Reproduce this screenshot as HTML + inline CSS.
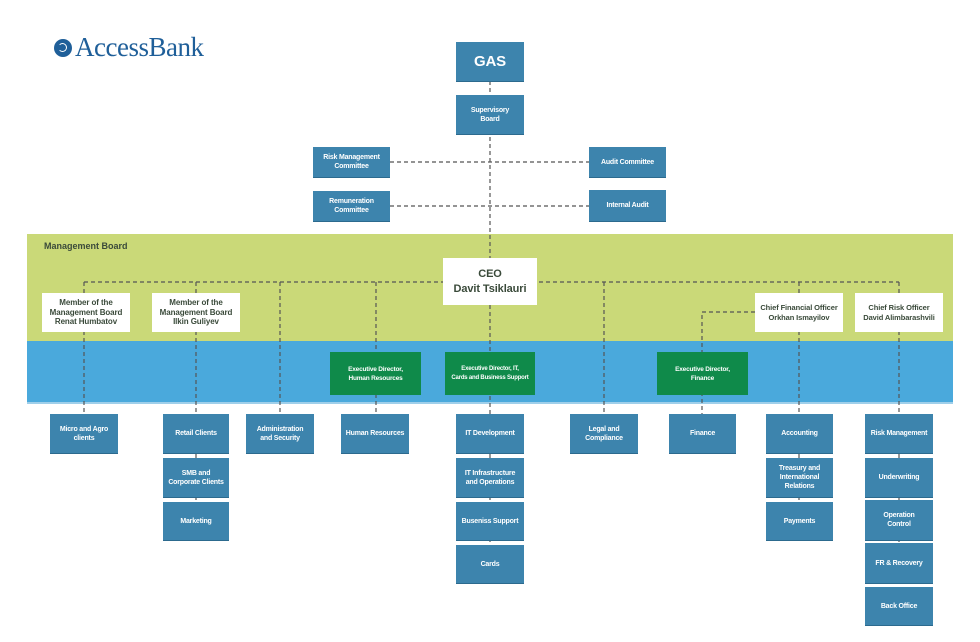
<!DOCTYPE html>
<html><head><meta charset="utf-8"><style>
body{margin:0;background:#fff;}
#c{position:relative;width:980px;height:642px;overflow:hidden;font-family:"Liberation Sans",sans-serif;}
.b{position:absolute;background:#3d84ad;color:#fff;font-weight:bold;font-size:7px;line-height:9px;letter-spacing:-0.2px;display:flex;align-items:center;justify-content:center;text-align:center;box-shadow:0 1px 0 #2c6a8e;}
.g{position:absolute;background:#0f8a4a;color:#fff;font-weight:bold;font-size:6.5px;line-height:9px;letter-spacing:-0.2px;display:flex;align-items:center;justify-content:center;text-align:center;}
.w{position:absolute;background:#fff;color:#3a4a3a;font-weight:bold;font-size:8px;line-height:9.5px;letter-spacing:-0.1px;display:flex;align-items:center;justify-content:center;text-align:center;}
svg{position:absolute;left:0;top:0;}
</style></head><body><div id="c">
<div style="position:absolute;left:27px;top:234px;width:926px;height:107px;background:#cad978"></div>
<div style="position:absolute;left:27px;top:341px;width:926px;height:61px;background:#4aa9dc;border-bottom:2px solid #9fcfea"></div>
<div style="position:absolute;left:44px;top:241px;font-size:9px;font-weight:bold;color:#3a4a3a">Management Board</div>
<div style="position:absolute;left:54px;top:32px;font-family:'Liberation Serif',serif;font-size:27px;color:#1f5f99;letter-spacing:-0.5px;display:flex;align-items:center">
<span style="display:inline-block;width:18px;height:18px;border-radius:50%;background:#1f5f99;margin-right:3px;position:relative"><span style="position:absolute;left:4px;top:4px;width:7px;height:7px;border:1.5px solid #fff;border-radius:50%;border-left-color:transparent"></span></span>AccessBank</div>
<svg width="980" height="642"><g stroke="#555" stroke-width="1.2" stroke-dasharray="4,3" fill="none">
<path d="M490 81V258M390 162H589M390 206H589"/>
<path d="M84 282H899M84 282V414M196 282V414M280 282V414M376 282V414M604 282V414M799 282V414M899 282V414M490 305V414"/>
<path d="M755 312H702V414"/>
<path d="M196 454V541M490 454V583M799 454V541M899 454V625"/>
</g></svg>
<div class="b" style="left:456px;top:42px;width:68px;height:39px;font-size:15px">GAS</div>
<div class="b" style="left:456px;top:95px;width:68px;height:39px">Supervisory<br>Board</div>
<div class="b" style="left:313px;top:147px;width:77px;height:30px">Risk Management<br>Committee</div>
<div class="b" style="left:589px;top:147px;width:77px;height:30px">Audit Committee</div>
<div class="b" style="left:313px;top:191px;width:77px;height:30px">Remuneration<br>Committee</div>
<div class="b" style="left:589px;top:190px;width:77px;height:31px">Internal Audit</div>
<div class="w" style="left:443px;top:258px;width:94px;height:47px;font-size:11px;line-height:15px">CEO<br>Davit Tsiklauri</div>
<div class="w" style="left:42px;top:293px;width:88px;height:39px">Member of the<br>Management Board<br>Renat Humbatov</div>
<div class="w" style="left:152px;top:293px;width:88px;height:39px">Member of the<br>Management Board<br>Ilkin Guliyev</div>
<div class="w" style="left:755px;top:293px;width:88px;height:39px;font-size:7.5px">Chief Financial Officer<br>Orkhan Ismayilov</div>
<div class="w" style="left:855px;top:293px;width:88px;height:39px;font-size:7.5px">Chief Risk Officer<br>David Alimbarashvili</div>
<div class="g" style="left:330px;top:352px;width:91px;height:43px">Executive Director,<br>Human Resources</div>
<div class="g" style="left:445px;top:352px;width:90px;height:43px;font-size:6px"><span style="white-space:nowrap">Executive Director, IT,<br>Cards and Business Support</span></div>
<div class="g" style="left:657px;top:352px;width:91px;height:43px">Executive Director,<br>Finance</div>
<div class="b" style="left:50px;top:414px;width:68px;height:39px">Micro and Agro<br>clients</div>
<div class="b" style="left:163px;top:414px;width:66px;height:39px">Retail Clients</div>
<div class="b" style="left:163px;top:458px;width:66px;height:39px">SMB and<br>Corporate Clients</div>
<div class="b" style="left:163px;top:502px;width:66px;height:38px">Marketing</div>
<div class="b" style="left:246px;top:414px;width:68px;height:39px">Administration<br>and Security</div>
<div class="b" style="left:341px;top:414px;width:68px;height:39px">Human Resources</div>
<div class="b" style="left:456px;top:414px;width:68px;height:39px">IT Development</div>
<div class="b" style="left:456px;top:458px;width:68px;height:39px">IT Infrastructure<br>and Operations</div>
<div class="b" style="left:456px;top:502px;width:68px;height:38px">Buseniss Support</div>
<div class="b" style="left:456px;top:545px;width:68px;height:38px">Cards</div>
<div class="b" style="left:570px;top:414px;width:68px;height:39px">Legal and<br>Compliance</div>
<div class="b" style="left:669px;top:414px;width:67px;height:39px">Finance</div>
<div class="b" style="left:766px;top:414px;width:67px;height:39px">Accounting</div>
<div class="b" style="left:766px;top:458px;width:67px;height:39px">Treasury and<br>International<br>Relations</div>
<div class="b" style="left:766px;top:502px;width:67px;height:38px">Payments</div>
<div class="b" style="left:865px;top:414px;width:68px;height:39px">Risk Management</div>
<div class="b" style="left:865px;top:458px;width:68px;height:39px">Underwriting</div>
<div class="b" style="left:865px;top:500px;width:68px;height:40px">Operation<br>Control</div>
<div class="b" style="left:865px;top:543px;width:68px;height:40px">FR &amp; Recovery</div>
<div class="b" style="left:865px;top:587px;width:68px;height:38px">Back Office</div>
</div></body></html>
